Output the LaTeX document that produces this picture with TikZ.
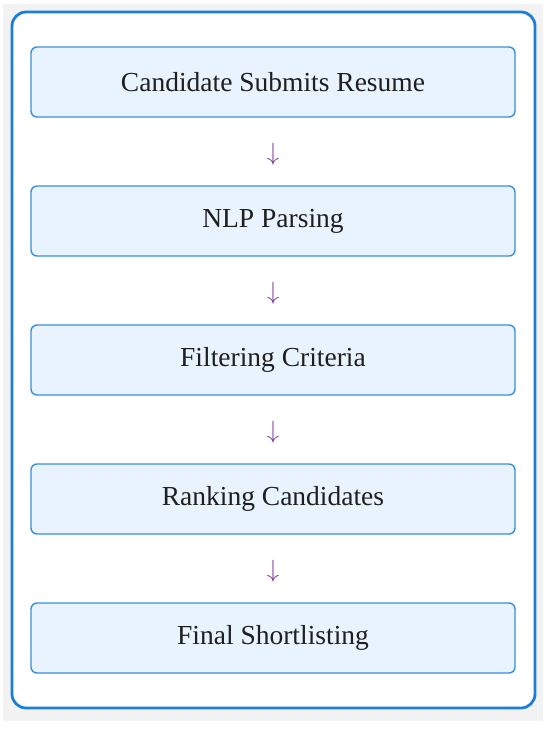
\documentclass[tikz,border=0pt]{standalone}
\usepackage{fontspec}
\setmainfont{Liberation Serif}
\usetikzlibrary{calc}
\definecolor{pagebg}{HTML}{F2F2F2}
\definecolor{outerblue}{HTML}{1A7FD4}
\definecolor{boxblue}{HTML}{3A8FDC}
\definecolor{boxfill}{HTML}{E8F3FD}
\definecolor{arrowpurple}{HTML}{7D3C98}
\tikzset{
  stepbox/.style={draw=boxblue, fill=boxfill, line width=1.4pt, rounded corners=6pt,
    minimum width=484pt, minimum height=70pt, inner sep=0pt,
    font=\fontsize{27.5}{32}\selectfont, text=black!88},
  flowarrow/.style={text=arrowpurple, font=\fontsize{24}{28}\selectfont, inner sep=0pt, yshift=-3pt}
}
\begin{document}
\begin{tikzpicture}[x=1pt,y=-1pt]
\useasboundingbox (0,0) rectangle (550,729);
\fill[pagebg] (3,4) rectangle (543,721);
\draw[outerblue, fill=white, line width=2.8pt, rounded corners=14pt] (12,12) rectangle (535,708);
\node[stepbox] (s1) at (273,82) {Candidate Submits Resume};
\node[stepbox] (s2) at (273,221) {NLP Parsing};
\node[stepbox] (s3) at (273,360) {Filtering Criteria};
\node[stepbox] (s4) at (273,499) {Ranking Candidates};
\node[stepbox] (s5) at (273,638) {Final Shortlisting};
\node[flowarrow] (a1) at ($(s1.south)!0.5!(s2.north)$) {$\downarrow$};
\node[flowarrow] (a2) at ($(s2.south)!0.5!(s3.north)$) {$\downarrow$};
\node[flowarrow] (a3) at ($(s3.south)!0.5!(s4.north)$) {$\downarrow$};
\node[flowarrow] (a4) at ($(s4.south)!0.5!(s5.north)$) {$\downarrow$};
\end{tikzpicture}
\end{document}
